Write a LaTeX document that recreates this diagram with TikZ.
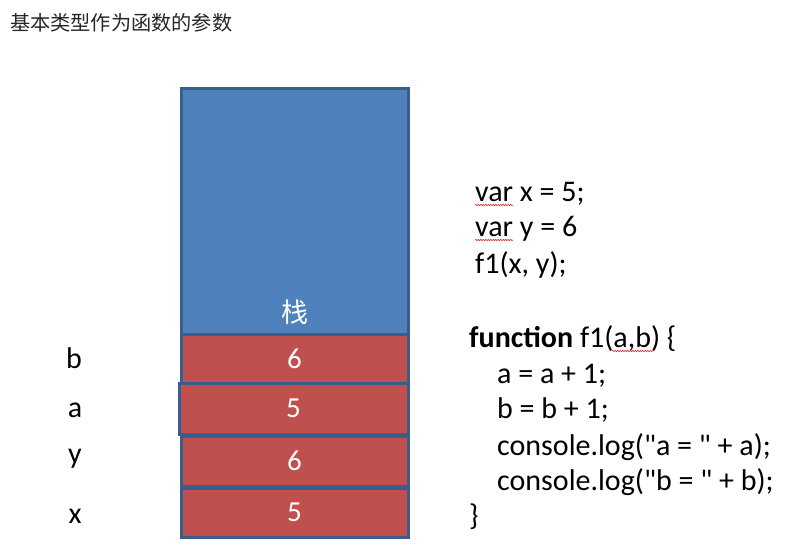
\documentclass[tikz,border=0pt]{standalone}
\usepackage{fontspec}
\setmainfont{Carlito}
\newfontfamily\codefont{Carlito}[Ligatures=TeXOff]
\newfontfamily\cjk{Noto Sans CJK SC}
\usetikzlibrary{decorations.pathmorphing}
\definecolor{stackblue}{HTML}{4F81BD}
\definecolor{cellred}{HTML}{C0504D}
\definecolor{edgeblue}{HTML}{3A5E8C}
\definecolor{squig}{HTML}{E03030}
\begin{document}
\begin{tikzpicture}[x=1pt,y=-1pt,
  box/.style={draw=edgeblue, line width=3pt, inner sep=0pt, text=white,
    font=\fontsize{29}{34}\selectfont},
  bluebox/.style={box, fill=stackblue},
  redbox/.style={box, fill=cellred},
  varlbl/.style={anchor=base, font=\fontsize{30}{36}\selectfont},
  code/.style={anchor=base west, inner sep=0pt, font=\codefont\fontsize{30}{36}\selectfont},
  wavy/.style={draw=squig, line width=0.6pt, decorate,
    decoration={snake, amplitude=0.7pt, segment length=2.5pt}}]
\useasboundingbox (0,0) rectangle (804,549);
\node[anchor=west, inner sep=0pt, font=\cjk\fontsize{20.2}{24}\selectfont, text=black!85] (title) at (10,23) {基本类型作为函数的参数};
% stack
\node[bluebox, minimum width=227pt, minimum height=246pt] (stk) at (294.5,211) {};
\node[text=white, font=\cjk\fontsize{27}{30}\selectfont, inner sep=0pt] (stklbl) at (294.5,312) {栈};
\node[redbox, minimum width=227pt, minimum height=49pt] (c1) at (294.5,358.5) {6};
\node[redbox, minimum width=229pt, minimum height=51pt] (c2) at (293.5,408.5) {5};
\node[redbox, minimum width=227pt, minimum height=50pt] (c3) at (294.5,461) {6};
\node[redbox, minimum width=227pt, minimum height=49pt] (c4) at (294.5,512.5) {5};
% variable labels
\node[varlbl] (lb) at (74,368) {b};
\node[varlbl] (la) at (75,417) {a};
\node[varlbl] (ly) at (75,463) {y};
\node[varlbl] (lx) at (75,523) {x};
% code
\node[code] (l1) at (475,201) {var x = 5;};
\node[code] (l2) at (475,236) {var y = 6};
\node[code] (l3) at (475,273) {f1(x, y);};
\node[code] (l4) at (469,347) {\textbf{function} f1(a,b) \{};
\node[code] (l5) at (497,383) {a = a + 1;};
\node[code] (l6) at (497,418) {b = b + 1;};
\node[code] (l7) at (497,455) {console.log("a = " + a);};
\node[code] (l8) at (497,490) {console.log("b = " + b);};
\node[code] (l9) at (469,525) {\}};
% spell-check squiggles
\draw[wavy] (475,205) -- (513,205);
\draw[wavy] (475,240) -- (513,240);
\draw[wavy] (612,351) -- (653,351);
\end{tikzpicture}
\end{document}
